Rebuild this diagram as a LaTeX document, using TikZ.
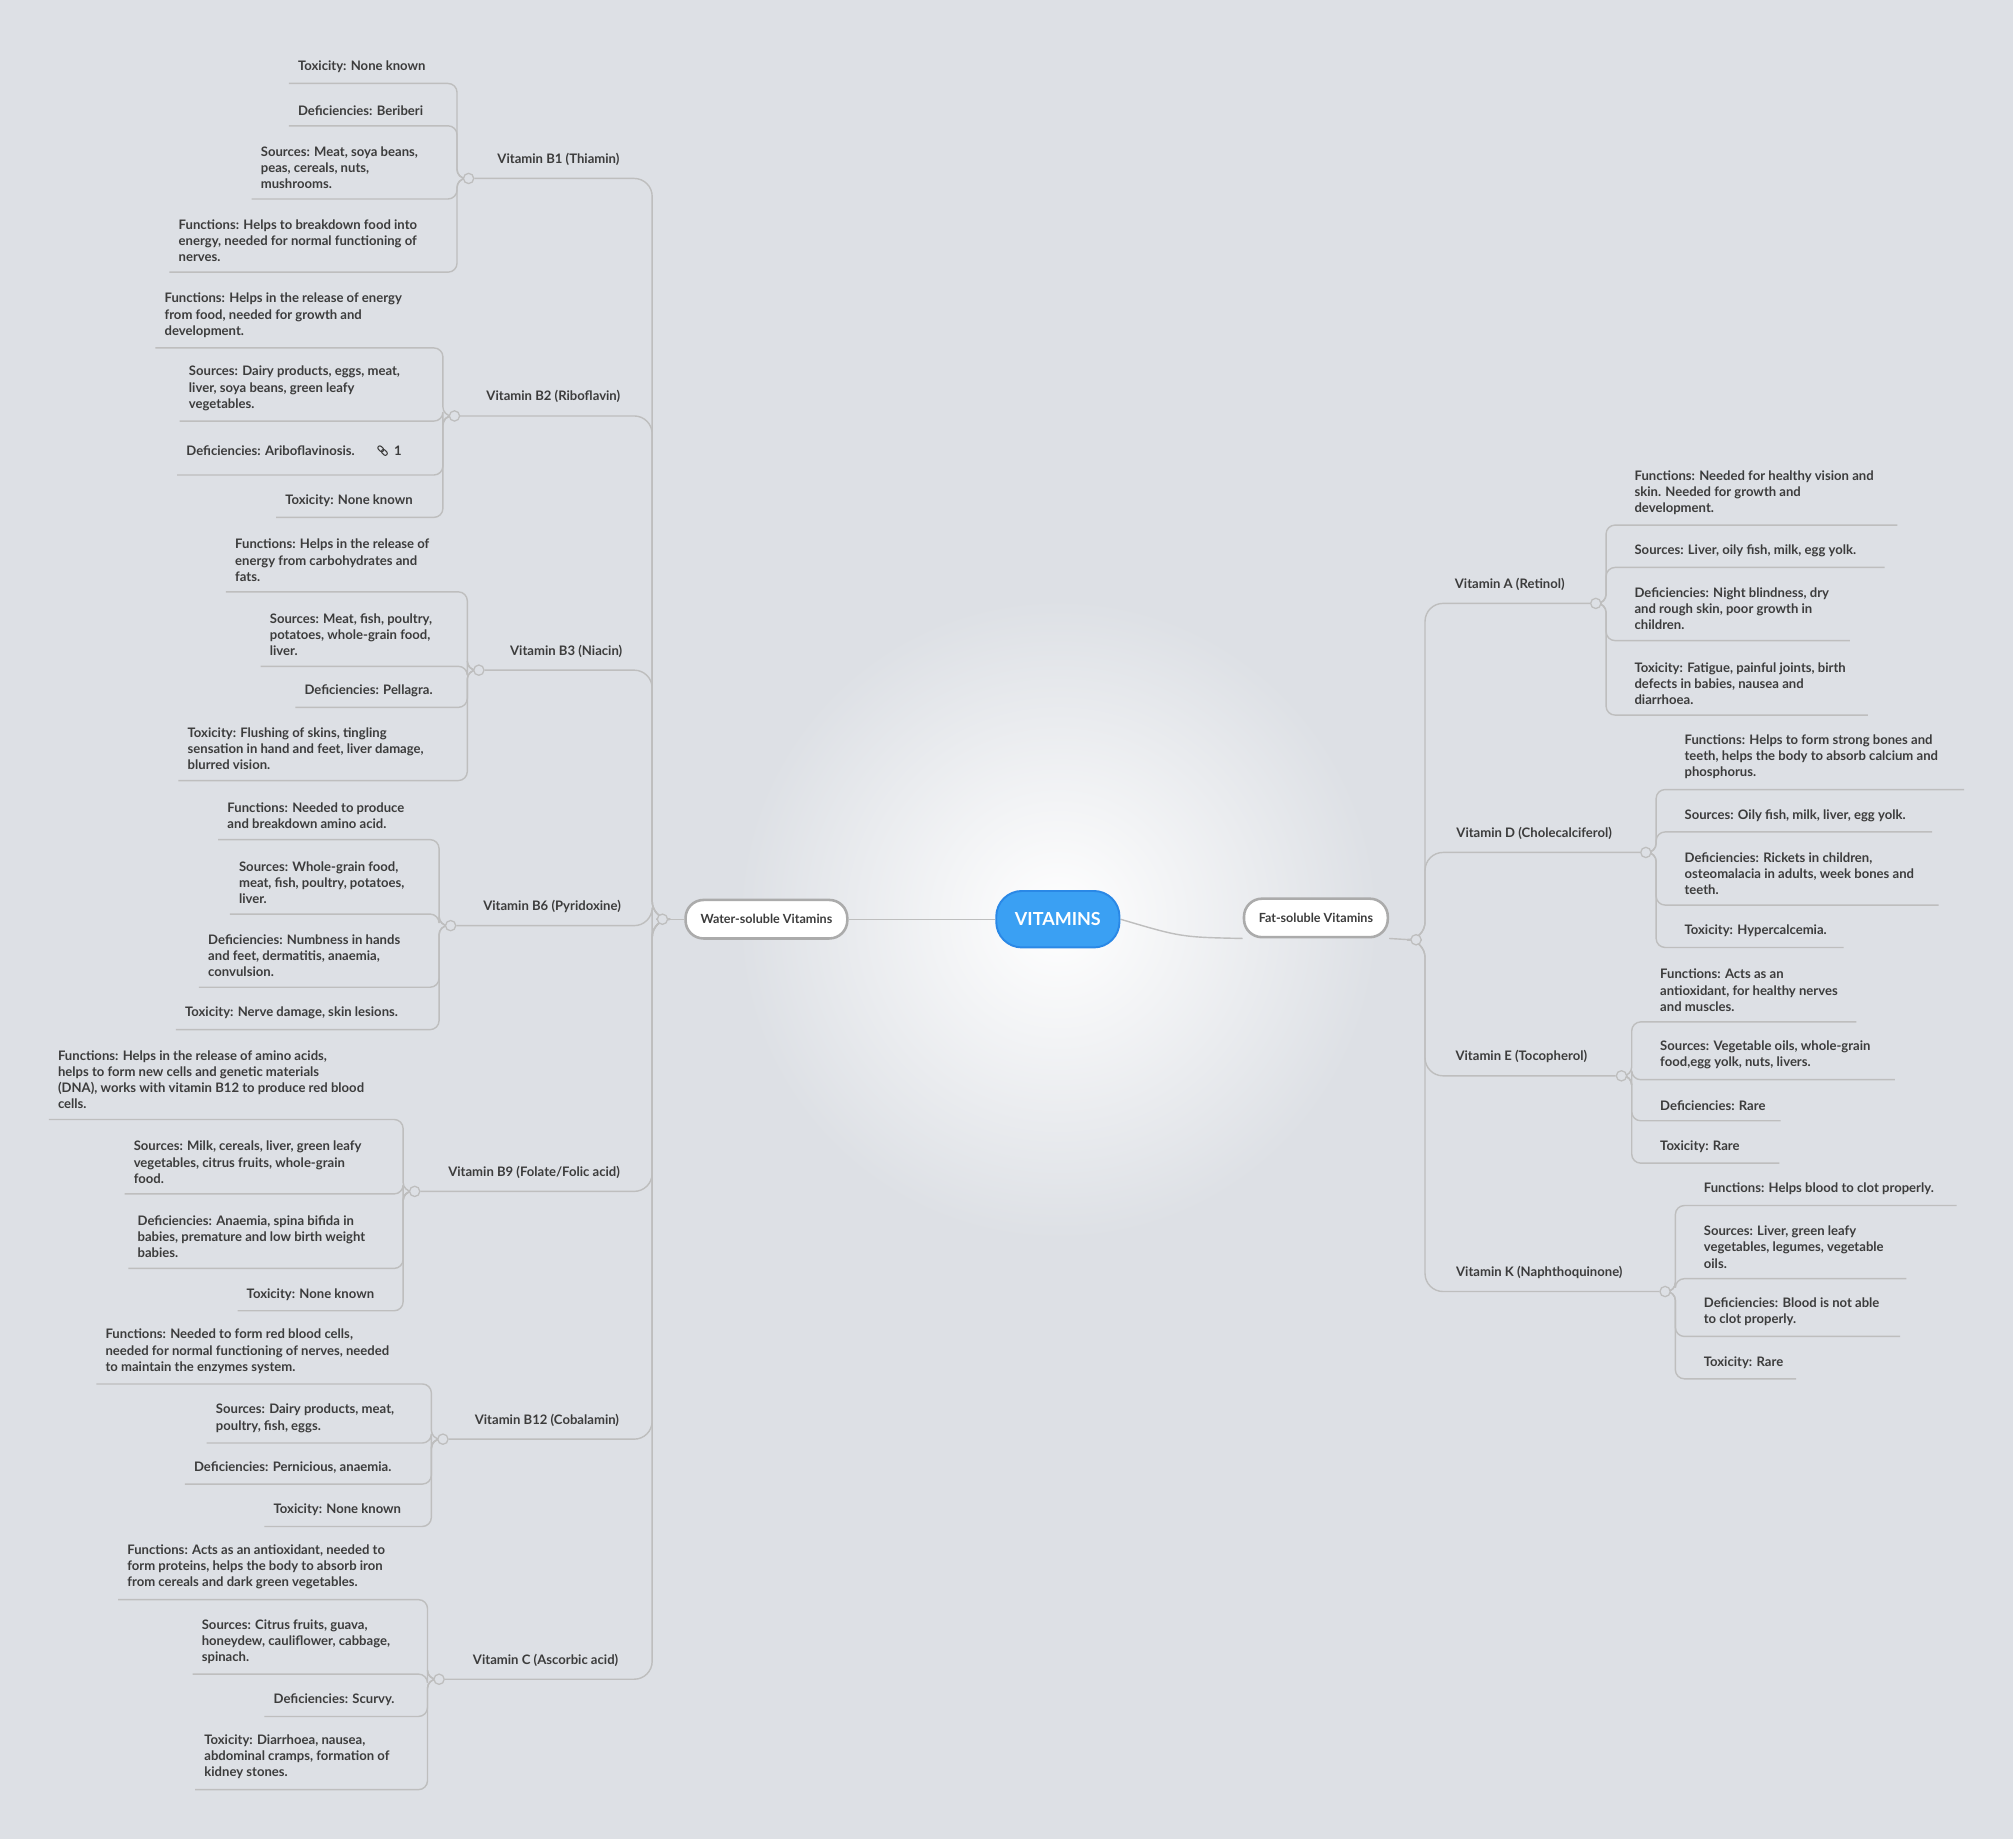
\documentclass[tikz,border=0pt]{standalone}
\usepackage{fontspec}
\setmainfont{Lato}
\definecolor{bg}{HTML}{DDE0E5}
\definecolor{ln}{HTML}{BEBEBE}
\definecolor{tx}{HTML}{3C3C3C}
\definecolor{blu}{HTML}{3AA0F3}
\definecolor{blud}{HTML}{2A88E6}
\pgfdeclareradialshading{glow}{\pgfpoint{0bp}{0bp}}{color(0bp)=(white); color(5bp)=(bg); color(50bp)=(bg)}
\pgfdeclarelayer{back}
\pgfdeclarelayer{lines}
\pgfsetlayers{back,lines,main}
\newcounter{lf}
\tikzset{
 conn/.style={draw=ln,line width=1.1pt},
 vcirc/.style={circle,draw=ln,line width=1pt,fill=bg,minimum size=8pt,inner sep=0},
 vlabel/.style={text=tx,font=\fontsize{10.2}{12}\selectfont\bfseries,inner sep=0},
 leaf/.style={text=tx,font=\fontsize{10.2}{12.6}\selectfont\bfseries,align=left,inner sep=0,anchor=south west},
 mid/.style={draw=ln!90!black,line width=2pt,fill=white,rounded corners=14pt,minimum height=30pt,text=tx,font=\fontsize{9.8}{11}\selectfont\bfseries},
}
\newcommand\vitL[5]{%
 \node[vcirc] (#1) at (#5,#4) {};
 \node[vlabel] (#1t) at (#3,#4-15) {#2};
 \begin{pgfonlayer}{lines}\draw[conn,rounded corners=14pt] (hubL.west) -| (508,#4) -- (#1.east);\end{pgfonlayer}
 \def\cx{#5}\def\cid{#1}}
\newcommand\lleaf[4][8]{%
 \stepcounter{lf}%
 \coordinate (lf\thelf) at (#3,#2);
 \node[leaf] (lt\thelf) at (#3+7,#2-#1) {#4};
 \begin{pgfonlayer}{lines}\draw[conn,rounded corners=7pt] (\cid.west) -| (\cx-9,#2) -- (lf\thelf);\end{pgfonlayer}}
\newcommand\vitR[5]{%
 \node[vcirc] (#1) at (#5,#4) {};
 \node[vlabel] (#1t) at (#3,#4-15) {#2};
 \begin{pgfonlayer}{lines}\draw[conn,rounded corners=14pt] (hubR.east) -| (1110,#4) -- (#1.west);\end{pgfonlayer}
 \def\cx{#5}\def\cid{#1}}
\newcommand\rleaf[3]{%
 \stepcounter{lf}%
 \coordinate (lf\thelf) at (#2,#1);
 \node[leaf] (lt\thelf) at (\cx+30,#1-8) {#3};
 \begin{pgfonlayer}{lines}\draw[conn,rounded corners=7pt] (\cid.east) -| (\cx+8,#1) -- (lf\thelf);\end{pgfonlayer}}
\begin{document}
\begin{tikzpicture}[x=1pt,y=-1pt]
\begin{pgfonlayer}{back}
\fill[bg] (0,0) rectangle (1568,1432);
\begin{scope}
\clip (0,0) rectangle (1568,1432);
\shade[shading=glow] (824-1250,716-1250) rectangle (824+1250,716+1250);
\end{scope}
\end{pgfonlayer}
\useasboundingbox (0,0) rectangle (1568,1432);
\node[vcirc] (hubL) at (516,716) {};
\node[vcirc] (hubR) at (1103,732) {};
\node[mid,minimum width=126pt] (water) at (597,716) {Water-soluble Vitamins};
\node[mid,minimum width=112pt] (fat) at (1025,715) {Fat-soluble Vitamins};
\node[fill=blu,draw=blud,line width=1.5pt,rounded corners=20pt,minimum width=96pt,minimum height=44pt,text=white,font=\fontsize{14}{16}\selectfont\bfseries] (root) at (824,716) {VITAMINS};
\begin{pgfonlayer}{lines}
\draw[conn] (root.west) -- (water.east);
\draw[conn] (water.west) -- (hubL.east);
\draw[conn] (root.east) .. controls (920,730) .. (fat.south west);
\draw[conn] (fat.south east) -- (hubR.west);
\end{pgfonlayer}
%% B1
\vitL{b1}{Vitamin B1 (Thiamin)}{435}{139}{365}
\lleaf{65}{225}{Toxicity: None known}
\lleaf{98}{225}{Deficiencies: Beriberi}
\lleaf{155}{196}{Sources: Meat, soya beans,\\peas, cereals, nuts,\\mushrooms.}
\lleaf{212}{132}{Functions: Helps to breakdown food into\\energy, needed for normal functioning of\\nerves.}
%% B2
\vitL{b2}{Vitamin B2 (Riboflavin)}{431}{324}{354}
\lleaf{271}{121}{Functions: Helps in the release of energy\\from food, needed for growth and\\development.}
\lleaf{328}{140}{Sources: Dairy products, eggs, meat,\\liver, soya beans, green leafy\\vegetables.}
\lleaf[15]{370}{138}{Deficiencies: Ariboflavinosis.}
\lleaf{403}{215}{Toxicity: None known}
\begin{scope}[shift={(298,351)},rotate=-45,tx,line width=0.8pt]
 \draw[rounded corners=1.6pt] (-4.6,-1.6) rectangle (0.6,1.6);
 \draw[rounded corners=1.6pt] (-0.6,-1.6) rectangle (4.6,1.6);
\end{scope}
\node[vlabel] (link) at (310,351) {1};
%% B3
\vitL{b3}{Vitamin B3 (Niacin)}{441}{522}{373}
\lleaf{461}{176}{Functions: Helps in the release of\\energy from carbohydrates and\\fats.}
\lleaf{519}{203}{Sources: Meat, fish, poultry,\\potatoes, whole-grain food,\\liver.}
\lleaf{551}{230}{Deficiencies: Pellagra.}
\lleaf{608}{139}{Toxicity: Flushing of skins, tingling\\sensation in hand and feet, liver damage,\\blurred vision.}
%% B6
\vitL{b6}{Vitamin B6 (Pyridoxine)}{430}{721}{351}
\lleaf{654}{170}{Functions: Needed to produce\\and breakdown amino acid.}
\lleaf{712}{179}{Sources: Whole-grain food,\\meat, fish, poultry, potatoes,\\liver.}
\lleaf{769}{155}{Deficiencies: Numbness in hands\\and feet, dermatitis, anaemia,\\convulsion.}
\lleaf{802}{137}{Toxicity: Nerve damage, skin lesions.}
%% B9
\vitL{b9}{Vitamin B9 (Folate/Folic acid)}{416}{928}{323}
\lleaf{872}{38}{Functions: Helps in the release of amino acids,\\helps to form new cells and genetic materials\\(DNA), works with vitamin B12 to produce red blood\\cells.}
\lleaf{930}{97}{Sources: Milk, cereals, liver, green leafy\\vegetables, citrus fruits, whole-grain\\food.}
\lleaf{988}{100}{Deficiencies: Anaemia, spina bifida in\\babies, premature and low birth weight\\babies.}
\lleaf{1021}{185}{Toxicity: None known}
%% B12
\vitL{b12}{Vitamin B12 (Cobalamin)}{426}{1121}{345}
\lleaf{1078}{75}{Functions: Needed to form red blood cells,\\needed for normal functioning of nerves, needed\\to maintain the enzymes system.}
\lleaf{1124}{161}{Sources: Dairy products, meat,\\poultry, fish, eggs.}
\lleaf{1156}{144}{Deficiencies: Pernicious, anaemia.}
\lleaf{1189}{206}{Toxicity: None known}
%% C
\vitL{vc}{Vitamin C (Ascorbic acid)}{425}{1308}{342}
\lleaf{1246}{92}{Functions: Acts as an antioxidant, needed to\\form proteins, helps the body to absorb iron\\from cereals and dark green vegetables.}
\lleaf{1304}{150}{Sources: Citrus fruits, guava,\\honeydew, cauliflower, cabbage,\\spinach.}
\lleaf{1337}{206}{Deficiencies: Scurvy.}
\lleaf{1394}{152}{Toxicity: Diarrhoea, nausea,\\abdominal cramps, formation of\\kidney stones.}
%% A
\vitR{va}{Vitamin A (Retinol)}{1176}{470}{1243}
\rleaf{409}{1478}{Functions: Needed for healthy vision and\\skin. Needed for growth and\\development.}
\rleaf{442}{1468}{Sources: Liver, oily fish, milk, egg yolk.}
\rleaf{499}{1441}{Deficiencies: Night blindness, dry\\and rough skin, poor growth in\\children.}
\rleaf{557}{1455}{Toxicity: Fatigue, painful joints, birth\\defects in babies, nausea and\\diarrhoea.}
%% D
\vitR{vd}{Vitamin D (Cholecalciferol)}{1195}{664}{1282}
\rleaf{615}{1530}{Functions: Helps to form strong bones and\\teeth, helps the body to absorb calcium and\\phosphorus.}
\rleaf{648}{1505}{Sources: Oily fish, milk, liver, egg yolk.}
\rleaf{705}{1510}{Deficiencies: Rickets in children,\\osteomalacia in adults, week bones and\\teeth.}
\rleaf{738}{1436}{Toxicity: Hypercalcemia.}
%% E
\vitR{ve}{Vitamin E (Tocopherol)}{1185}{838}{1263}
\rleaf{796}{1446}{Functions: Acts as an\\antioxidant, for healthy nerves\\and muscles.}
\rleaf{841}{1476}{Sources: Vegetable oils, whole-grain\\food,egg yolk, nuts, livers.}
\rleaf{873}{1387}{Deficiencies: Rare}
\rleaf{906}{1386}{Toxicity: Rare}
%% K
\vitR{vk}{Vitamin K (Naphthoquinone)}{1199}{1006}{1297}
\rleaf{939}{1524}{Functions: Helps blood to clot properly.}
\rleaf{996}{1485}{Sources: Liver, green leafy\\vegetables, legumes, vegetable\\oils.}
\rleaf{1041}{1480}{Deficiencies: Blood is not able\\to clot properly.}
\rleaf{1074}{1399}{Toxicity: Rare}
\end{tikzpicture}
\end{document}
